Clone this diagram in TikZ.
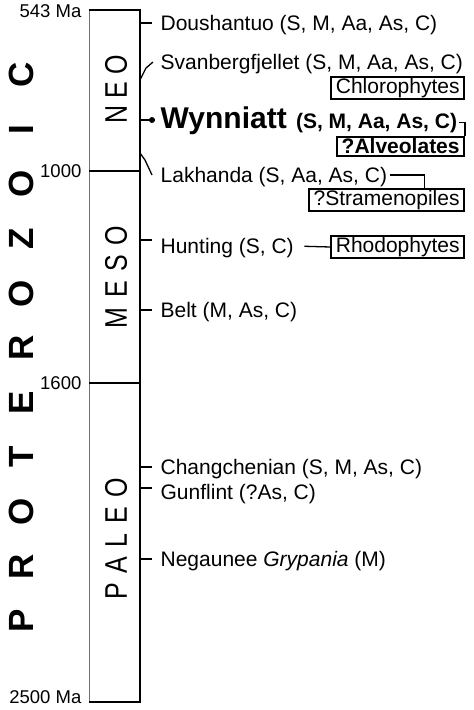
\documentclass[tikz,border=0pt]{standalone}
\usepackage{graphicx}
\usepackage{fontspec}
\setmainfont{Liberation Sans}

\begin{document}
\begin{tikzpicture}[x=1pt,y=-1pt,line width=1.3pt,
  site/.style={anchor=west,inner sep=0pt,text height=15pt,text depth=0pt,font=\fontsize{21}{25}\selectfont},
  clade/.style={draw,line width=1.8pt,anchor=east,inner xsep=4.5pt,inner ysep=1.5pt,text height=15pt,text depth=4.5pt,font=\fontsize{21}{25}\selectfont},
  age/.style={anchor=east,inner sep=0pt,text height=13.3pt,text depth=0pt,font=\fontsize{18.5}{22}\selectfont},
  era/.style={rotate=90,inner sep=0pt,text height=25pt,text depth=0pt,font=\fontsize{35}{40}\selectfont\bfseries},
  period/.style={rotate=90,inner sep=0pt,font=\fontsize{25}{30}\selectfont}]
  \useasboundingbox (0,0) rectangle (474,710);

  % time column
  \draw[black!55,line width=0.6pt] (89,10) -- (89,702);
  \draw (89,10) -- (140,10) -- (140,702) -- (89,702);
  \draw (89,171) -- (140,171) (89,383) -- (140,383);
  \foreach \y/\t in {11/543 Ma,171/1000,383/1600,697/2500 Ma}{\node[age] (age\y) at (82,\y) {\t};}

  % eon and eras
  \foreach \l [count=\i from 0] in {P,R,O,T,E,R,O,Z,O,I,C}{\node[era] (eon\i) at (20.5,621-54.6*\i) {\l};}
  \node[period] (neo) at (116,89) {\scalebox{1}[1.25]{N\hspace{7pt}E\hspace{7pt}O}};
  \node[period] (meso) at (116,277) {\scalebox{1}[1.25]{M\hspace{9.5pt}E\hspace{9.5pt}S\hspace{9.5pt}O}};
  \node[period] (paleo) at (116,539) {\scalebox{1}[1.25]{P\hspace{9.5pt}A\hspace{9.5pt}L\hspace{9.5pt}E\hspace{9.5pt}O}};

  % fossil sites with plain ticks
  \foreach \n/\ty/\y/\t in {dou/23/23/{Doushantuo (S, M, Aa, As, C)},
      hun/240/246/{Hunting (S, C)}, bel/310/310/{Belt (M, As, C)},
      cha/467/467/{Changchenian (S, M, As, C)}, gun/488/492/{Gunflint (?As, C)},
      neg/559/559/{Negaunee \textit{Grypania} (M)}}{
    \node[site] (\n) at (160,\y) {\t};
    \coordinate (t\n) at (140,\ty);
    \draw[shorten >=8pt] (t\n) -- (t\n -| \n.west);
  }

  \node[site] (svb) at (160,62) {Svanbergfjellet (S, M, Aa, As, C)};
  \coordinate (tsvb) at (140,80);
  \draw (tsvb) -- ++(6,-12) -- ([xshift=-7pt]svb.west);

  \node[site,text height=21.5pt,font=\fontsize{30}{36}\selectfont\bfseries] (wyn) at (160,118) {Wynniatt};
  \node[anchor=base west,inner sep=0pt,font=\fontsize{21}{25}\selectfont\bfseries] (wynx) at ([xshift=8pt]wyn.base east) {(S, M, Aa, As, C)};
  \coordinate (twyn) at (140,120);
  \draw (twyn) -- ++(15,0);
  \fill ([xshift=12pt]twyn) circle (3pt);

  \node[site] (lak) at (160,175) {Lakhanda (S, Aa, As, C)};
  \coordinate (tlak) at (140,153);
  \draw (tlak) -- ++(5,7) -- ([xshift=-8pt]lak.west);

  % clades
  \node[clade] (chl) at (465,88) {Chlorophytes};
  \node[clade,text depth=1.5pt,font=\fontsize{21}{25}\selectfont\bfseries] (alv) at (465,146.5) {?Alveolates};
  \node[clade] (str) at (465,200) {?Stramenopiles};
  \node[clade] (rho) at (465,247) {Rhodophytes};

  \draw ([xshift=1pt,yshift=6pt]wynx.base east) -| (alv.north east);
  \draw ([xshift=2pt]lak.east) -| ([xshift=38pt]str.north);
  \draw[shorten <=10pt] (hun.east) -- (rho.west);
\end{tikzpicture}
\end{document}
